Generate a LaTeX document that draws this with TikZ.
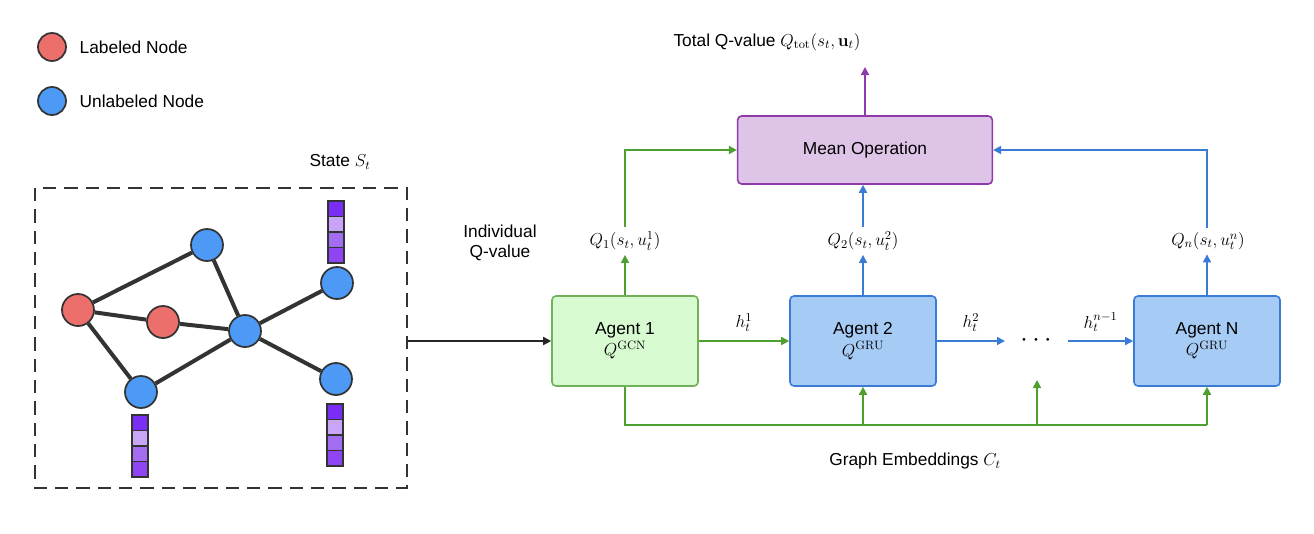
\RequirePackage{fix-cm}
\documentclass[tikz,border=0pt]{standalone}
\usepackage[no-math]{fontspec}
\setmainfont{Liberation Sans}
\usetikzlibrary{arrows.meta}
\definecolor{red1}{HTML}{EC6F6B}
\definecolor{blu}{HTML}{4C9AF5}
\definecolor{gfill}{HTML}{D7FAD0}
\definecolor{gline}{HTML}{4E9F2F}
\definecolor{bfill}{HTML}{A6CCF6}
\definecolor{bline}{HTML}{3A7BD5}
\definecolor{pfill}{HTML}{DEC4E7}
\definecolor{pline}{HTML}{8E3AA8}
\definecolor{v1}{HTML}{7A2EF5}
\definecolor{v2}{HTML}{C8A5F6}
\definecolor{v3}{HTML}{A36DF2}
\definecolor{v4}{HTML}{8F45F4}
\begin{document}
\begin{tikzpicture}[x=0.75pt,y=-0.75pt,
  font=\fontsize{13}{15}\selectfont,
  lab/.style={circle,draw=black!80,line width=1.3pt,fill=red1,minimum size=24pt,inner sep=0pt},
  unl/.style={lab,fill=blu},
  ed/.style={draw=black!80,line width=3pt},
  cell/.style={draw=black!80,line width=1pt},
  box/.style={rounded corners=3pt,line width=1.2pt,minimum width=109.5pt,minimum height=67.5pt,align=center,inner sep=2pt},
  garr/.style={-{Triangle[length=6pt,width=6pt]},gline,line width=1.3pt},
  barr/.style={-{Triangle[length=6pt,width=6pt]},bline,line width=1.3pt},
  parr/.style={-{Triangle[length=6pt,width=6pt]},pline,line width=1.3pt}]
\useasboundingbox (0,0) rectangle (1314,533);
% legend
\node[lab,minimum size=21pt] (l1) at (52,47) {};
\node[anchor=west] (l1t) at (75,47) {Labeled Node};
\node[unl,minimum size=21pt] (l2) at (52,101) {};
\node[anchor=west] (l2t) at (75,101) {Unlabeled Node};
% state box
\draw[black!80,line width=2pt,dash pattern=on 10pt off 6pt] (35,188) rectangle (407,488);
\node (st) at (340,162) {State $S_t$};
\coordinate (bx) at (407,341);
% graph
\node[lab] (r1) at (78,310) {};
\node[lab] (r2) at (163,322) {};
\node[unl] (bt) at (207,245) {};
\node[unl] (bc) at (245,331) {};
\node[unl] (brt) at (337,283) {};
\node[unl] (brb) at (336,379) {};
\node[unl] (bb) at (141,392) {};
\path[ed] (r1)--(bt) (r1)--(r2) (r1)--(bb) (r2)--(bc) (bt)--(bc) (bc)--(brt) (bc)--(brb) (bb)--(bc);
% vectors
\foreach \x/\y in {328/201,327/404,132/415}{
  \foreach \c [count=\i from 0] in {v1,v2,v3,v4}{
    \draw[cell,fill=\c] (\x,\y+\i*15.5) rectangle (\x+16,\y+\i*15.5+15.5);
  }
}
% agents
\node[box,draw=gline!80,fill=gfill] (a1) at (625,341) {Agent 1\\[1pt]$Q^{\mathrm{GCN}}$};
\node[box,draw=bline,fill=bfill] (a2) at (863,341) {Agent 2\\[1pt]$Q^{\mathrm{GRU}}$};
\node[box,draw=bline,fill=bfill] (an) at (1207,341) {Agent N\\[1pt]$Q^{\mathrm{GRU}}$};
\node (dots) at (1036,341) {\fontsize{20}{20}\selectfont\bfseries$\cdots$};
\node[box,draw=pline,fill=pfill,minimum width=191pt,minimum height=51pt] (mean) at (865,150) {Mean Operation};
\node (tot) at (767,42) {Total Q-value $Q_{\mathrm{tot}}(s_t,\mathbf{u}_t)$};
\draw[parr] (mean.north) -- (865,67);
\draw[-{Triangle[length=6pt,width=6pt]},black!85,line width=1.3pt] (bx) -- (a1.west);
% Q labels
\node (iq) at (500,243) [align=center] {Individual\\Q-value};
\node (q1) at (625,241) {$Q_1(s_t,u_t^1)$};
\node (q2) at (863,241) {$Q_2(s_t,u_t^2)$};
\node (qn) at (1208,241) {$Q_n(s_t,u_t^n)$};
\draw[garr] (a1.north) -- (a1.north |- q1.south);
\draw[barr] (a2.north) -- (a2.north |- q2.south);
\draw[barr] (an.north) -- (an.north |- qn.south);
\draw[garr] (a1.north |- q1.north) |- (mean.west);
\draw[barr] (a2.north |- q2.north) -- (a2.north |- mean.south);
\draw[barr] (an.north |- qn.north) |- (mean.east);
% h arrows
\draw[garr] (a1.east) -- node[above=3pt,black] {$h_t^1$} (a2.west);
\draw[barr] (a2.east) -- node[above=3pt,black] {$h_t^2$} (1005,341) coordinate (d1);
\draw[barr] (1068,341) coordinate (d2) -- node[above=3pt,black] {$h_t^{n-1}$} (an.west);
% bus
\coordinate (b0) at (625,425);
\coordinate (b2) at (863,425);
\coordinate (b3) at (1037,425);
\coordinate (b4) at (1207,425);
\draw[gline,line width=1.3pt] (a1.south) -- (b0) -- (b4);
\draw[garr] (b2) -- (a2.south);
\draw[garr] (b3) -- (1037,380);
\draw[garr] (b4) -- (an.south);
\node (ge) at (915,461) {Graph Embeddings $C_t$};
\end{tikzpicture}
\end{document}
